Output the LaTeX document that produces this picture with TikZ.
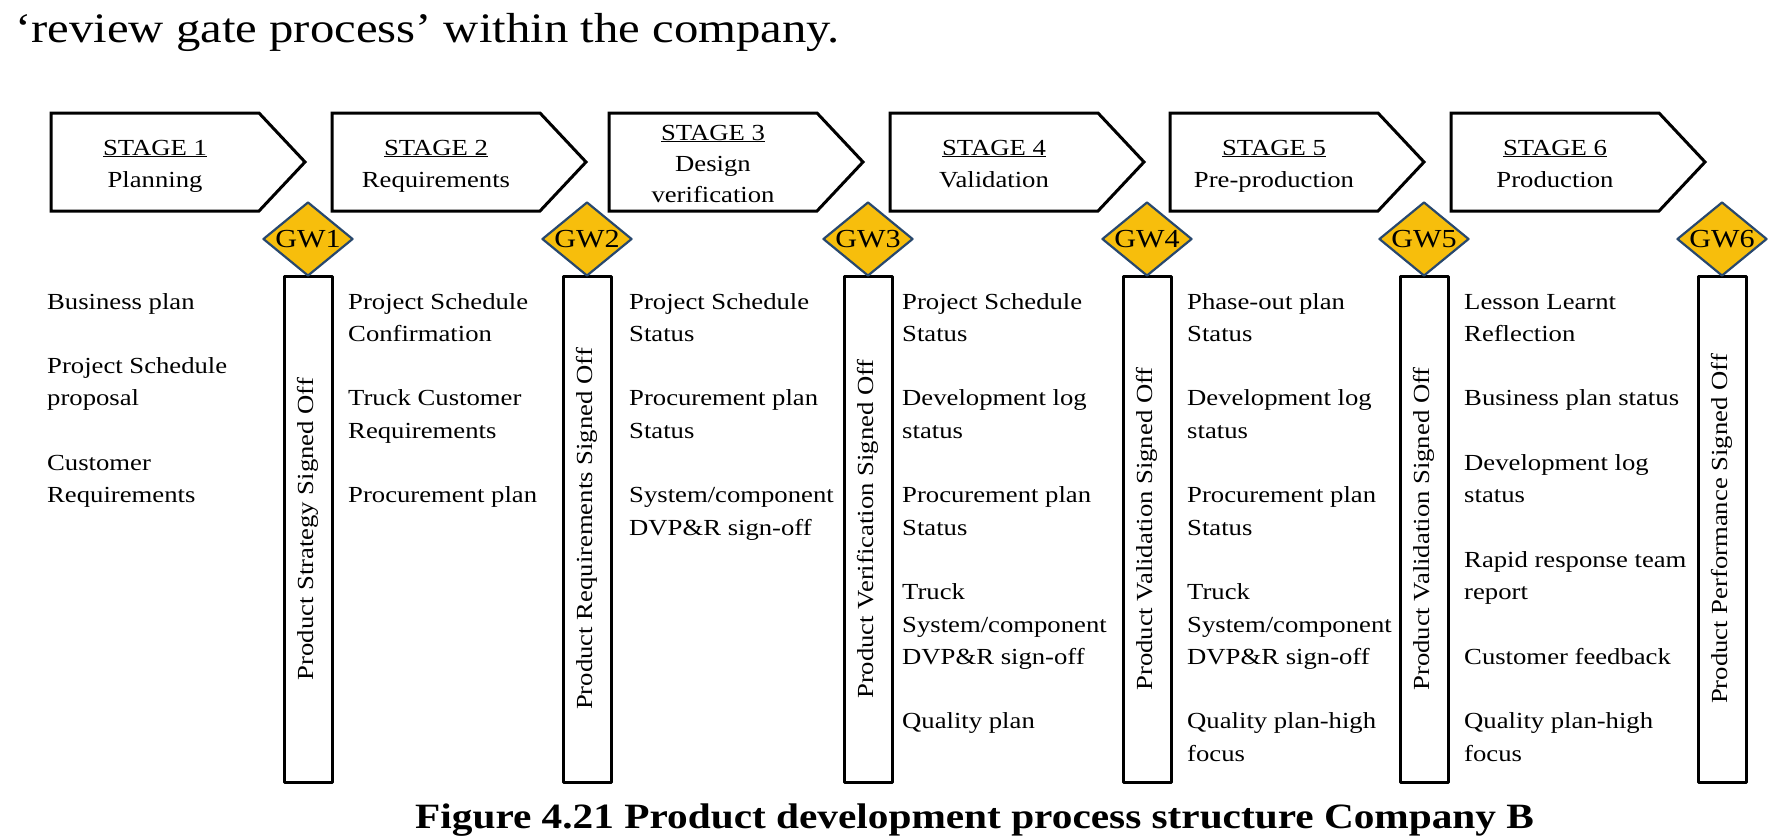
\documentclass[tikz,border=0pt]{standalone}
\usepackage{fontspec}
\setmainfont{Liberation Serif}[FakeStretch=1.16]
\usetikzlibrary{shapes.geometric}
\definecolor{gategold}{RGB}{247,190,12}
\definecolor{gateblue}{RGB}{40,72,110}
\newcommand{\syscomp}{System/component}
\newcommand{\dvpr}{DVP\&R sign-off}
\tikzset{
  stagebox/.style={draw=black, line width=3pt, line join=miter},
  stagetext/.style={anchor=base, inner sep=0pt, font=\fontsize{23}{28}\selectfont},
  itemtext/.style={anchor=base west, inner sep=0pt, font=\fontsize{23}{28}\selectfont},
  gate/.style={diamond, aspect=1.2, draw=gateblue, fill=gategold, line width=2.2pt,
    minimum width=90pt, minimum height=74pt, inner sep=0pt, font=\fontsize{26}{26}\selectfont},
  signoff/.style={rectangle, draw=black, line width=3pt, rotate=90, minimum width=506pt,
    minimum height=48pt, inner sep=0pt, font=\fontsize{23}{28}\selectfont}
}

\begin{document}
\begin{tikzpicture}[line cap=round,line join=round,x=1pt,y=-1pt]
    \useasboundingbox (0,0) rectangle (1784,838);
    \clip (0,0) rectangle (1784,838);

    % Running text above and caption below
    \node[anchor=base west, inner sep=0pt, font=\fontsize{42}{42}\selectfont] (head) at (15,42) {‘review gate process’ within the company.};
    \node[anchor=base west, inner sep=0pt, font=\fontsize{35.6}{36}\selectfont\bfseries] (caption) at (415,828) {Figure 4.21 Product development process structure Company B};

    % Stage arrows
    \foreach \n/\l in {1/51, 2/332, 3/609, 4/890, 5/1170, 6/1451} {
            \draw[stagebox] (\l,113) -- (\l+208,113) -- (\l+254,162) -- (\l+208,211) -- (\l,211) -- cycle;
        }
    \foreach \n/\x/\stname in {1/155/Planning, 2/436/Requirements, 4/994/Validation, 5/1274/Pre-production, 6/1555/Production} {
            \node[stagetext] (stage\n) at (\x,155) {\underline{STAGE \n}};
            \node[stagetext] (name\n) at (\x,187) {\stname};
        }
    \node[stagetext] (stage3) at (713,140) {\underline{STAGE 3}};
    \node[stagetext] (name3) at (713,171) {Design};
    \node[stagetext] (name3b) at (713,202) {verification};

    % Gateways with their sign-off bars
    \foreach \n/\x/\what in {1/308/Strategy, 2/587/Requirements, 3/868/Verification, 4/1147/Validation, 5/1424/Validation, 6/1722/Performance} {
            \node[signoff] (bar\n) at (\x,529) {Product \what\ Signed Off};
            \node[gate] (gw\n) at (\x,239) {GW\n};
        }

    % Deliverables, one line every 32.3
    \foreach \k/\txt in {0/Business plan, 2/Project Schedule, 3/proposal, 5/Customer, 6/Requirements}
        \node[itemtext] (one\k) at (47,309+32.3*\k) {\txt};
    \foreach \k/\txt in {0/Project Schedule, 1/Confirmation, 3/Truck Customer, 4/Requirements, 6/Procurement plan}
        \node[itemtext] (two\k) at (348,309+32.3*\k) {\txt};
    \foreach \k/\txt in {0/Project Schedule, 1/Status, 3/Procurement plan, 4/Status, 6/\syscomp, 7/\dvpr}
        \node[itemtext] (three\k) at (629,309+32.3*\k) {\txt};
    \foreach \k/\txt in {0/Project Schedule, 1/Status, 3/Development log, 4/status, 6/Procurement plan, 7/Status, 9/Truck, 10/\syscomp, 11/\dvpr, 13/Quality plan}
        \node[itemtext] (four\k) at (902,309+32.3*\k) {\txt};
    \foreach \k/\txt in {0/Phase-out plan, 1/Status, 3/Development log, 4/status, 6/Procurement plan, 7/Status, 9/Truck, 10/\syscomp, 11/\dvpr, 13/Quality plan-high, 14/focus}
        \node[itemtext] (five\k) at (1187,309+32.3*\k) {\txt};
    \foreach \k/\txt in {0/Lesson Learnt, 1/Reflection, 3/Business plan status, 5/Development log, 6/status, 8/Rapid response team, 9/report, 11/Customer feedback, 13/Quality plan-high, 14/focus}
        \node[itemtext] (six\k) at (1464,309+32.3*\k) {\txt};
\end{tikzpicture}
\end{document}
